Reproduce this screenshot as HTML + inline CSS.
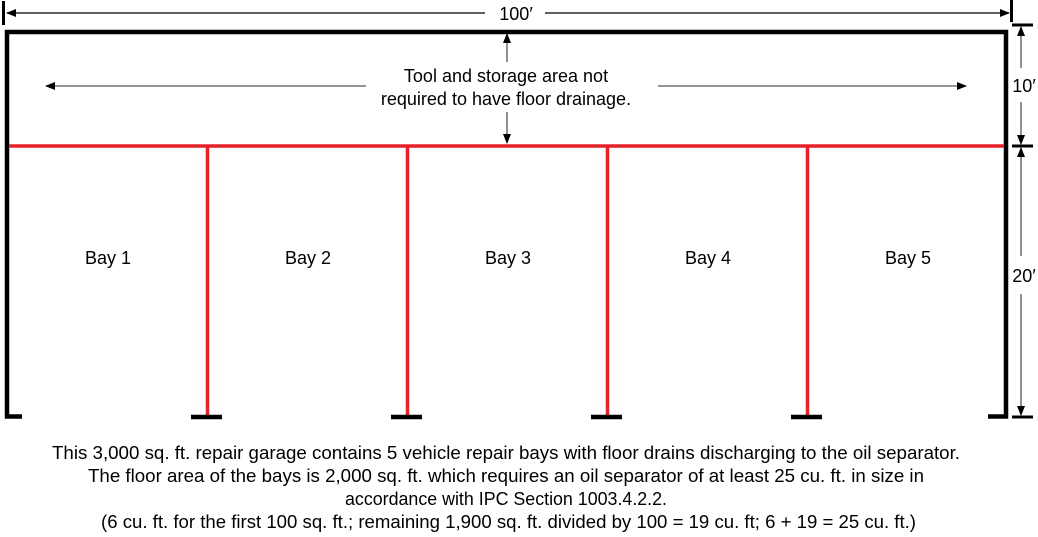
<!DOCTYPE html>
<html><head><style>
body{margin:0;background:#fff;}
svg text{font-family:"Liberation Sans",Arial,sans-serif;fill:#000;}
</style></head><body>
<svg width="1038" height="532" viewBox="0 0 1038 532" xmlns="http://www.w3.org/2000/svg">
<defs>
<marker id="a" markerWidth="10" markerHeight="8" refX="9" refY="4" orient="auto" markerUnits="userSpaceOnUse"><path d="M0,0 L10,4 L0,8 Z" fill="#000"/></marker>
</defs>
<line x1="3.5" y1="1" x2="3.5" y2="25" stroke="#000" stroke-width="3"/>
<line x1="1011.5" y1="0" x2="1011.5" y2="22" stroke="#000" stroke-width="3"/>
<line x1="485" y1="13" x2="7" y2="13" stroke="#000" stroke-width="1.3" marker-end="url(#a)"/>
<line x1="545" y1="13" x2="1009" y2="13" stroke="#000" stroke-width="1.3" marker-end="url(#a)"/>
<text x="516" y="20" font-size="18" text-anchor="middle">100′</text>
<path d="M22,416.5 L7,416.5 L7,32 L1006,32 L1006,416.5 L988,416.5" fill="none" stroke="#000" stroke-width="4.5"/>
<line x1="9" y1="146" x2="1004" y2="146" stroke="#e8202a" stroke-width="3.5"/>
<g stroke="#e8202a" stroke-width="3.5">
<line x1="207.5" y1="146" x2="207.5" y2="416"/>
<line x1="407.5" y1="146" x2="407.5" y2="416"/>
<line x1="607.5" y1="146" x2="607.5" y2="416"/>
<line x1="807.5" y1="146" x2="807.5" y2="416"/>
</g>
<g stroke="#000" stroke-width="4.5">
<line x1="191" y1="417" x2="222" y2="417"/>
<line x1="391" y1="417" x2="422" y2="417"/>
<line x1="591" y1="417" x2="622" y2="417"/>
<line x1="791" y1="417" x2="822" y2="417"/>
</g>
<g stroke="#000" stroke-width="3">
<line x1="1012" y1="25" x2="1033" y2="25"/>
<line x1="1012" y1="146" x2="1033" y2="146"/>
<line x1="1012" y1="417" x2="1033" y2="417"/>
</g>
<g stroke="#555" stroke-width="1.3">
<line x1="1021" y1="68" x2="1021" y2="27" marker-end="url(#a)"/>
<line x1="1021" y1="102" x2="1021" y2="144" marker-end="url(#a)"/>
<line x1="1021" y1="256" x2="1021" y2="148" marker-end="url(#a)"/>
<line x1="1021" y1="294" x2="1021" y2="415" marker-end="url(#a)"/>
</g>
<text x="1024" y="92" font-size="18" text-anchor="middle">10′</text>
<text x="1024" y="282" font-size="18" text-anchor="middle">20′</text>
<g stroke="#555" stroke-width="1.3">
<line x1="507" y1="62" x2="507" y2="34" marker-end="url(#a)"/>
<line x1="507" y1="112" x2="507" y2="143" marker-end="url(#a)"/>
<line x1="366" y1="86" x2="46" y2="86" marker-end="url(#a)"/>
<line x1="658" y1="86" x2="966" y2="86" marker-end="url(#a)"/>
</g>
<text x="506" y="82" font-size="18" text-anchor="middle">Tool and storage area not</text>
<text x="506" y="105" font-size="18" text-anchor="middle">required to have floor drainage.</text>
<g font-size="18" text-anchor="middle">
<text x="108" y="264">Bay 1</text>
<text x="308" y="264">Bay 2</text>
<text x="508" y="264">Bay 3</text>
<text x="708" y="264">Bay 4</text>
<text x="908" y="264">Bay 5</text>
</g>
<g font-size="18">
<text x="52" y="459" textLength="908" lengthAdjust="spacingAndGlyphs">This 3,000 sq. ft. repair garage contains 5 vehicle repair bays with floor drains discharging to the oil separator.</text>
<text x="88" y="482" textLength="836" lengthAdjust="spacingAndGlyphs">The floor area of the bays is 2,000 sq. ft. which requires an oil separator of at least 25 cu. ft. in size in</text>
<text x="345" y="505" textLength="322" lengthAdjust="spacingAndGlyphs">accordance with IPC Section 1003.4.2.2.</text>
<text x="101" y="528" textLength="815" lengthAdjust="spacingAndGlyphs">(6 cu. ft. for the first 100 sq. ft.; remaining 1,900 sq. ft. divided by 100 = 19 cu. ft; 6 + 19 = 25 cu. ft.)</text>
</g>
</svg>
</body></html>
